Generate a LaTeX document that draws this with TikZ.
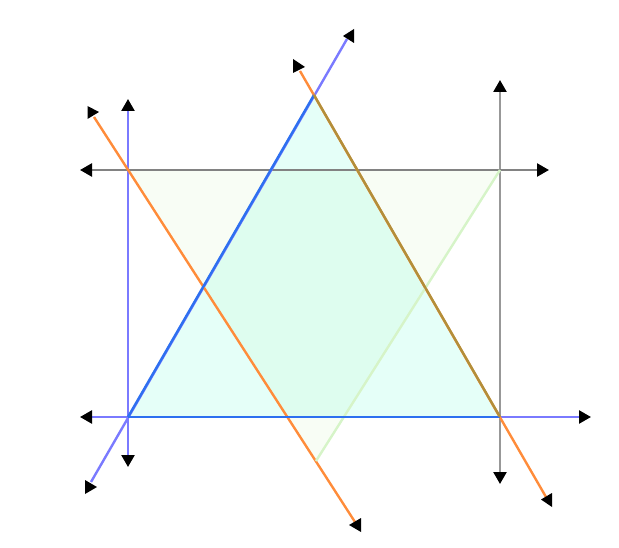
\documentclass[tikz,border=0pt]{standalone}
\usetikzlibrary{arrows.meta}
\definecolor{lineblue}{RGB}{122,122,255}
\definecolor{edgeblue}{RGB}{45,112,240}
\definecolor{lineorange}{RGB}{255,140,58}
\definecolor{edgeolive}{RGB}{178,143,58}
\definecolor{linegrayh}{RGB}{130,130,130}
\definecolor{linegrayv}{RGB}{152,152,152}
\definecolor{edgegreen}{RGB}{214,244,200}
\definecolor{fillcyan}{RGB}{0,255,190}
\definecolor{fillgreen}{RGB}{150,225,110}
\begin{document}
\begin{tikzpicture}[x=1pt,y=-1pt,
  ln/.style={line width=2.4pt},
  twotip/.style={{Triangle[length=12pt,width=13pt,color=black]}-{Triangle[length=12pt,width=13pt,color=black]}},
  headfill/.style={fill=black}]
\useasboundingbox (0,0) rectangle (619,548);
% vertices
\coordinate (A) at (128,417);
\coordinate (B) at (314,95);
\coordinate (C) at (500,417);
\coordinate (D) at (128,170);
\coordinate (F) at (500,170);
\coordinate (G) at (316,461);
% line ends
\coordinate (l1a) at (347,39);  \coordinate (l1b) at (91,482);
\coordinate (l2a) at (300,71);  \coordinate (l2b) at (546,497);
\coordinate (l3a) at (94,117);  \coordinate (l3b) at (355,522);
\coordinate (hL) at (80,417);   \coordinate (hR) at (591,417);
\coordinate (gL) at (80,170);   \coordinate (gR) at (549,170);
\coordinate (vbT) at (128,99);  \coordinate (vbB) at (128,467);
\coordinate (vgT) at (500,80);  \coordinate (vgB) at (500,484);
% fills
\fill[fillgreen,opacity=0.07] (D) -- (F) -- (G) -- cycle;
\fill[fillcyan,opacity=0.10] (A) -- (B) -- (C) -- cycle;
% straight lines with tips
\draw[ln,linegrayv,twotip] (vgB) -- (vgT);
\draw[ln,linegrayh,twotip] (gL) -- (gR);
\draw[ln,lineblue,twotip] (vbB) -- (vbT);
\draw[ln,lineblue,twotip] (hL) -- (hR);
% diagonal lines
\draw[ln,lineblue] (l1b) -- (l1a);
\draw[ln,lineorange] (l2a) -- (l2b);
\draw[ln,lineorange] (l3a) -- (l3b);
% triangle edges
\draw[ln,edgegreen] (F) -- (G);
\draw[ln,edgeblue] (A) -- (B);
\draw[ln,edgeblue] (A) -- (C);
\draw[ln,edgeolive] (B) -- (C);
% diagonal heads
\fill[headfill] (343,36) -- (354,29) -- (354,43) -- cycle;
\fill[headfill] (293,59) -- (293,73) -- (305,67) -- cycle;
\fill[headfill] (87.5,106) -- (87.5,119) -- (99,112) -- cycle;
\fill[headfill] (85,480) -- (85,494) -- (97,487) -- cycle;
\fill[headfill] (349,525) -- (361,518) -- (361,532) -- cycle;
\fill[headfill] (541,499.5) -- (552,493) -- (552,507) -- cycle;
\end{tikzpicture}
\end{document}
